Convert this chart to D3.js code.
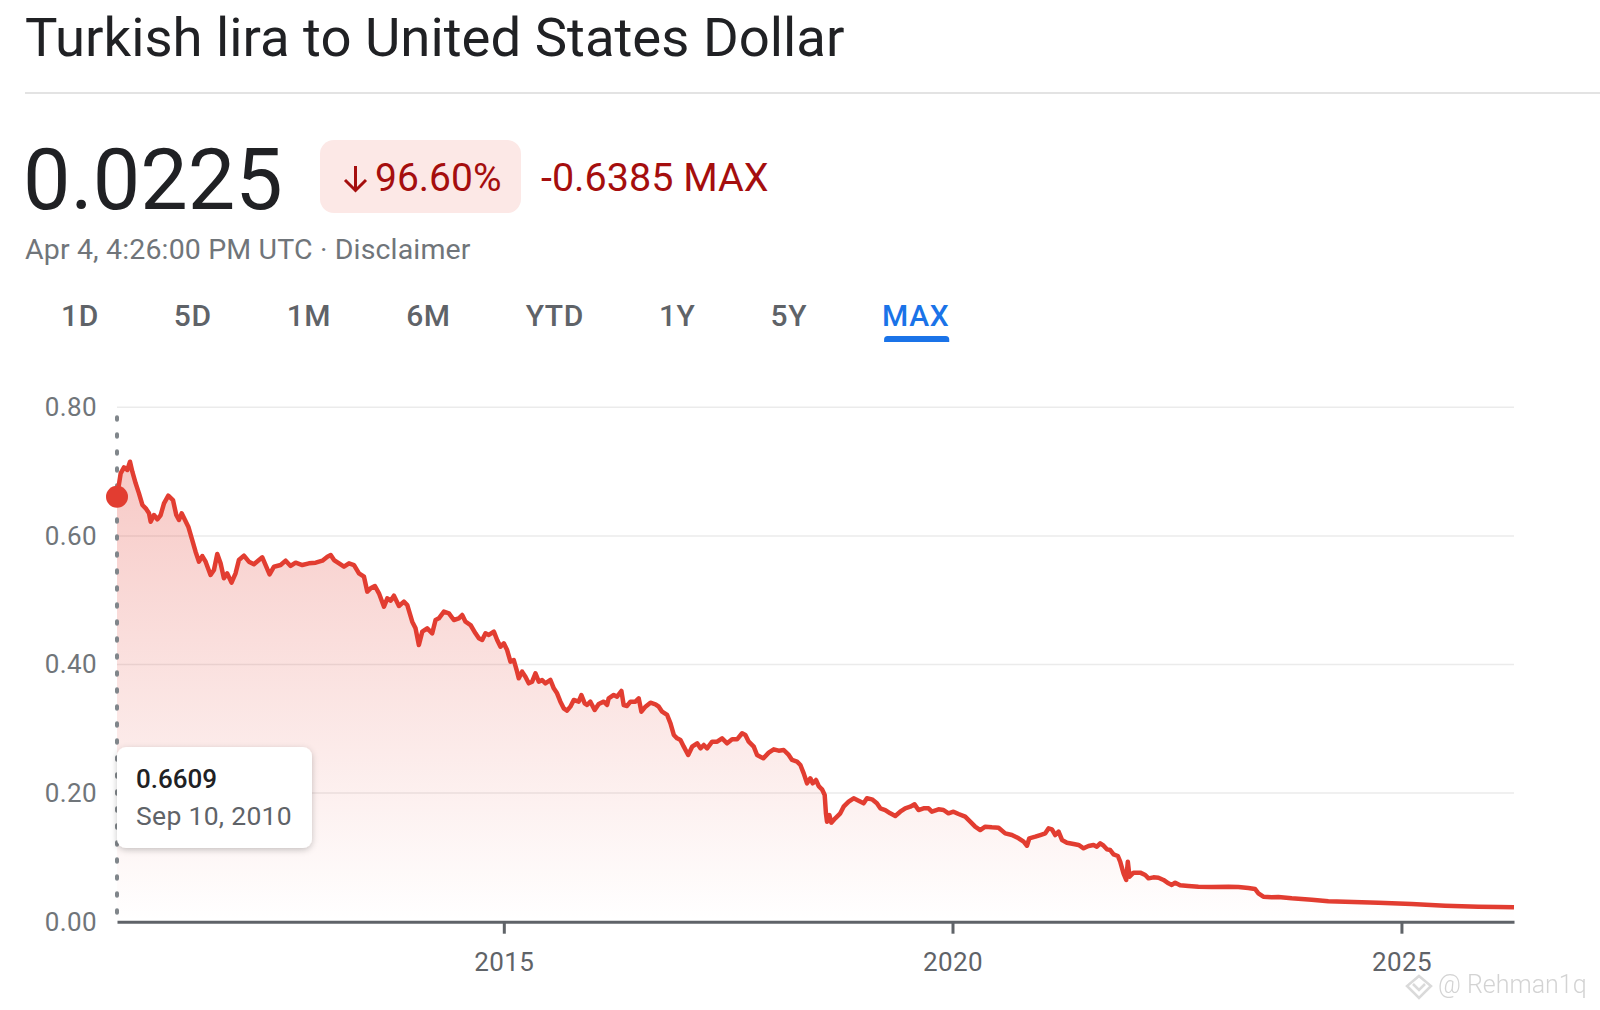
<!DOCTYPE html>
<html>
<head>
<meta charset="utf-8">
<script src="https://cdn.jsdelivr.net/npm/d3@7"></script>
<style>
  body { margin: 0; background: #fff; }
  svg { display: block; font-family: Roboto, "Noto Sans", sans-serif; }
</style>
</head>
<body>
<div id="chart"></div>
<script>
// data (decimal year, TRY in USD)
var years = [
  2010.690, 2010.731, 2010.768, 2010.805, 2010.835, 2010.861, 2010.898, 2010.935, 2010.973, 2011.010,
  2011.047, 2011.065, 2011.102, 2011.140, 2011.177, 2011.214, 2011.262, 2011.314, 2011.351, 2011.381,
  2011.411, 2011.448, 2011.485, 2011.529, 2011.566, 2011.604, 2011.641, 2011.678, 2011.733, 2011.771,
  2011.808, 2011.845, 2011.882, 2011.919, 2011.967, 2012.012, 2012.049, 2012.105, 2012.160, 2012.216,
  2012.272, 2012.309, 2012.346, 2012.390, 2012.439, 2012.513, 2012.569, 2012.624, 2012.680, 2012.754,
  2012.828, 2012.903, 2012.977, 2013.033, 2013.070, 2013.107, 2013.163, 2013.218, 2013.274, 2013.330,
  2013.385, 2013.441, 2013.478, 2013.515, 2013.563, 2013.608, 2013.664, 2013.701, 2013.738, 2013.775,
  2013.831, 2013.886, 2013.924, 2013.979, 2014.016, 2014.053, 2014.091, 2014.146, 2014.202, 2014.239,
  2014.276, 2014.332, 2014.388, 2014.443, 2014.499, 2014.536, 2014.573, 2014.629, 2014.684, 2014.722,
  2014.759, 2014.796, 2014.833, 2014.889, 2014.926, 2014.963, 2015.000, 2015.037, 2015.074, 2015.111,
  2015.148, 2015.167, 2015.204, 2015.241, 2015.278, 2015.316, 2015.353, 2015.390, 2015.427, 2015.464,
  2015.520, 2015.557, 2015.594, 2015.631, 2015.668, 2015.705, 2015.742, 2015.780, 2015.835, 2015.865,
  2015.902, 2015.928, 2015.965, 2016.013, 2016.058, 2016.114, 2016.151, 2016.169, 2016.225, 2016.262,
  2016.310, 2016.336, 2016.373, 2016.411, 2016.466, 2016.503, 2016.533, 2016.578, 2016.633, 2016.689,
  2016.726, 2016.763, 2016.819, 2016.856, 2016.893, 2016.930, 2016.967, 2017.004, 2017.053, 2017.097,
  2017.153, 2017.190, 2017.227, 2017.264, 2017.320, 2017.376, 2017.431, 2017.487, 2017.543, 2017.598,
  2017.654, 2017.691, 2017.728, 2017.784, 2017.821, 2017.890, 2017.951, 2018.007, 2018.062, 2018.118,
  2018.174, 2018.211, 2018.267, 2018.304, 2018.341, 2018.378, 2018.415, 2018.441, 2018.478, 2018.508,
  2018.545, 2018.575, 2018.589, 2018.601, 2018.627, 2018.649, 2018.693, 2018.749, 2018.786, 2018.842,
  2018.898, 2018.953, 2019.009, 2019.046, 2019.102, 2019.157, 2019.195, 2019.250, 2019.306, 2019.362,
  2019.417, 2019.473, 2019.529, 2019.577, 2019.621, 2019.677, 2019.733, 2019.770, 2019.844, 2019.900,
  2019.955, 2020.011, 2020.067, 2020.141, 2020.197, 2020.252, 2020.308, 2020.364, 2020.438, 2020.512,
  2020.586, 2020.661, 2020.735, 2020.791, 2020.828, 2020.854, 2020.921, 2020.976, 2021.032, 2021.069,
  2021.106, 2021.143, 2021.180, 2021.218, 2021.273, 2021.347, 2021.403, 2021.459, 2021.514, 2021.570,
  2021.607, 2021.644, 2021.682, 2021.719, 2021.756, 2021.793, 2021.841, 2021.867, 2021.904, 2021.934,
  2021.952, 2021.971, 2022.016, 2022.090, 2022.146, 2022.183, 2022.238, 2022.294, 2022.350, 2022.405,
  2022.442, 2022.480, 2022.535, 2022.628, 2022.739, 2022.888, 2023.074, 2023.185, 2023.296, 2023.370,
  2023.408, 2023.463, 2023.556, 2023.630, 2023.779, 2024.002, 2024.187, 2024.373, 2024.744, 2025.115,
  2025.486, 2025.857, 2026.080, 2026.255
];
var rates = [
  0.6609, 0.6973, 0.7066, 0.7025, 0.7154, 0.6999, 0.6818, 0.6662, 0.6481, 0.6429,
  0.6351, 0.6221, 0.6325, 0.6258, 0.6325, 0.6506, 0.6626, 0.6558, 0.6325, 0.6247,
  0.6351, 0.6247, 0.6144, 0.5936, 0.5755, 0.5599, 0.5687, 0.5599, 0.5392, 0.5470,
  0.5718, 0.5573, 0.5340, 0.5418, 0.5273, 0.5418, 0.5625, 0.5693, 0.5599, 0.5558,
  0.5625, 0.5667, 0.5547, 0.5402, 0.5521, 0.5547, 0.5615, 0.5532, 0.5584, 0.5547,
  0.5573, 0.5584, 0.5615, 0.5677, 0.5703, 0.5625, 0.5573, 0.5521, 0.5573, 0.5547,
  0.5418, 0.5366, 0.5133, 0.5185, 0.5221, 0.5107, 0.4899, 0.5029, 0.4993, 0.5070,
  0.4910, 0.4977, 0.4925, 0.4666, 0.4562, 0.4303, 0.4511, 0.4562, 0.4485, 0.4692,
  0.4718, 0.4822, 0.4796, 0.4692, 0.4718, 0.4770, 0.4666, 0.4614, 0.4485, 0.4407,
  0.4381, 0.4485, 0.4459, 0.4511, 0.4381, 0.4277, 0.4329, 0.4225, 0.4044, 0.4070,
  0.3889, 0.3785, 0.3889, 0.3811, 0.3707, 0.3733, 0.3863, 0.3733, 0.3759, 0.3707,
  0.3759, 0.3629, 0.3552, 0.3422, 0.3318, 0.3282, 0.3344, 0.3448, 0.3422, 0.3526,
  0.3396, 0.3370, 0.3422, 0.3292, 0.3386, 0.3422, 0.3370, 0.3474, 0.3526, 0.3500,
  0.3588, 0.3370, 0.3355, 0.3422, 0.3422, 0.3474, 0.3266, 0.3344, 0.3406, 0.3381,
  0.3344, 0.3266, 0.3215, 0.3085, 0.2904, 0.2852, 0.2826, 0.2722, 0.2593, 0.2722,
  0.2774, 0.2696, 0.2748, 0.2696, 0.2800, 0.2800, 0.2852, 0.2774, 0.2836, 0.2836,
  0.2930, 0.2904, 0.2800, 0.2722, 0.2593, 0.2541, 0.2629, 0.2681, 0.2660, 0.2670,
  0.2593, 0.2515, 0.2489, 0.2437, 0.2307, 0.2152, 0.2230, 0.2152, 0.2204, 0.2110,
  0.2059, 0.1970, 0.1685, 0.1556, 0.1659, 0.1540, 0.1608, 0.1685, 0.1789, 0.1867,
  0.1919, 0.1882, 0.1841, 0.1919, 0.1903, 0.1841, 0.1763, 0.1737, 0.1685, 0.1644,
  0.1711, 0.1763, 0.1789, 0.1825, 0.1737, 0.1763, 0.1763, 0.1711, 0.1748, 0.1737,
  0.1685, 0.1711, 0.1675, 0.1633, 0.1556, 0.1478, 0.1426, 0.1478, 0.1468, 0.1462,
  0.1374, 0.1348, 0.1297, 0.1245, 0.1182, 0.1297, 0.1322, 0.1348, 0.1374, 0.1452,
  0.1437, 0.1348, 0.1400, 0.1271, 0.1229, 0.1208, 0.1193, 0.1141, 0.1177, 0.1193,
  0.1167, 0.1219, 0.1182, 0.1125, 0.1115, 0.1048, 0.1022, 0.0934, 0.0752, 0.0649,
  0.0934, 0.0700, 0.0763, 0.0763, 0.0726, 0.0674, 0.0690, 0.0684, 0.0649, 0.0597,
  0.0571, 0.0607, 0.0566, 0.0555, 0.0545, 0.0540, 0.0545, 0.0540, 0.0524, 0.0509,
  0.0441, 0.0389, 0.0379, 0.0384, 0.0363, 0.0343, 0.0317, 0.0312, 0.0296, 0.0275,
  0.0249, 0.0234, 0.0230, 0.0225
];
var yTicks = [0, 0.2, 0.4, 0.6, 0.8];
var xTickYears = [2015, 2020, 2025];
var tabLabels = ["1D", "5D", "1M", "6M", "YTD", "1Y", "5Y", "MAX"];
var activeTab = "MAX";

var titleText = "Turkish lira to United States Dollar";
var priceText = "0.0225";
var changePct = "96.60%";
var changeAbs = "-0.6385 MAX";
var stampText = "Apr 4, 4:26:00 PM UTC \u00b7 Disclaimer";
var tipValue = "0.6609";
var tipDate = "Sep 10, 2010";

var svgWidth = 1600;
var svgHeight = 1010;

var red = "#e23d31";
var darkRed = "#a50e0e";

function toDate(y) {
  var yr = Math.floor(y);
  var a = Date.UTC(yr, 0, 1), b = Date.UTC(yr + 1, 0, 1);
  return new Date(a + (y - yr) * (b - a));
}

var data = years.map(function(y, i) {
  return { date: toDate(y), rate: rates[i] };
});

var svg = d3.select("#chart")
  .append("svg")
  .attr("width", svgWidth)
  .attr("height", svgHeight);

// header
svg.append("text")
  .attr("x", 25)
  .attr("y", 56)
  .attr("font-size", 54.5)
  .attr("fill", "#202124")
  .text(titleText);

svg.append("line")
  .attr("x1", 25).attr("x2", svgWidth)
  .attr("y1", 93).attr("y2", 93)
  .attr("stroke", "#e3e3e3")
  .attr("stroke-width", 2);

svg.append("text")
  .attr("x", 23)
  .attr("y", 209)
  .attr("font-size", 84.5)
  .attr("fill", "#202124")
  .text(priceText);

svg.append("rect")
  .attr("x", 320).attr("y", 140)
  .attr("width", 201).attr("height", 73)
  .attr("rx", 14)
  .attr("fill", "#fce8e6");

// down arrow
svg.append("path")
  .attr("d", "M355.5,166 V190 M345,180 L355.5,190.5 L366,180")
  .attr("fill", "none")
  .attr("stroke", darkRed)
  .attr("stroke-width", 3);

svg.append("text")
  .attr("x", 375).attr("y", 191)
  .attr("font-size", 39)
  .attr("fill", darkRed)
  .text(changePct);

svg.append("text")
  .attr("x", 541).attr("y", 191)
  .attr("font-size", 39.5)
  .attr("fill", darkRed)
  .text(changeAbs);

svg.append("text")
  .attr("x", 25).attr("y", 259)
  .attr("font-size", 28.5)
  .attr("letter-spacing", 0.15)
  .attr("fill", "#70757a")
  .text(stampText);

// range tabs, laid out one after another
var tabX = 61;
tabLabels.forEach(function(t) {
  var isActive = t === activeTab;
  var label = svg.append("text")
    .attr("x", tabX).attr("y", 326)
    .attr("font-size", 30)
    .attr("font-weight", 500)
    .attr("letter-spacing", 0.6)
    .attr("fill", isActive ? "#1a73e8" : "#5f6368")
    .text(t);
  var w = label.node().getComputedTextLength();
  if (isActive) {
    svg.append("path")
      .attr("d", `M${tabX + 2},342 v-2.5 a3.5,3.5 0 0 1 3.5,-3.5 h${w - 9} a3.5,3.5 0 0 1 3.5,3.5 v2.5 Z`)
      .attr("fill", "#1a73e8");
  }
  tabX += w + 75;
});

// chart
var xScale = d3.scaleUtc()
  .domain(d3.extent(data, d => d.date))
  .range([117, 1514]);

var yScale = d3.scaleLinear()
  .domain([0, 0.8])
  .range([921.7, 407.3]);

var defs = svg.append("defs");
var grad = defs.append("linearGradient")
  .attr("id", "areaFill")
  .attr("gradientUnits", "userSpaceOnUse")
  .attr("x1", 0).attr("x2", 0)
  .attr("y1", yScale(0.72)).attr("y2", yScale(0));
grad.append("stop").attr("offset", "0%").attr("stop-color", red).attr("stop-opacity", 0.28);
grad.append("stop").attr("offset", "100%").attr("stop-color", red).attr("stop-opacity", 0.0);

var shadow = defs.append("filter")
  .attr("id", "tipShadow")
  .attr("x", "-20%").attr("y", "-20%")
  .attr("width", "140%").attr("height", "150%");
shadow.append("feDropShadow")
  .attr("dx", 0).attr("dy", 2)
  .attr("stdDeviation", 3)
  .attr("flood-color", "#000")
  .attr("flood-opacity", 0.22);

// gridlines
svg.append("g")
  .selectAll("line")
  .data(yTicks.filter(d => d > 0))
  .enter()
  .append("line")
  .attr("x1", xScale.range()[0])
  .attr("x2", xScale.range()[1])
  .attr("y1", d => yScale(d))
  .attr("y2", d => yScale(d))
  .attr("stroke", "#ebebeb")
  .attr("stroke-width", 1.5);

// y axis labels
var yAxis = d3.axisLeft(yScale)
  .tickValues(yTicks)
  .tickFormat(d3.format(".2f"))
  .tickSize(0)
  .tickPadding(20);

var yAxisG = svg.append("g")
  .attr("transform", `translate(${xScale.range()[0]},0)`)
  .call(yAxis);
yAxisG.select(".domain").remove();
yAxisG.selectAll("text")
  .attr("font-family", "Roboto, sans-serif")
  .attr("font-size", 26)
  .attr("letter-spacing", 0.4)
  .attr("fill", "#70757a");

// area + line
var area = d3.area()
  .x(d => xScale(d.date))
  .y0(yScale(0))
  .y1(d => yScale(d.rate));

var line = d3.line()
  .x(d => xScale(d.date))
  .y(d => yScale(d.rate));

svg.append("path")
  .datum(data)
  .attr("d", area)
  .attr("fill", "url(#areaFill)");

// dotted hover line
var hoverX = xScale(data[0].date);
svg.append("line")
  .attr("x1", hoverX).attr("x2", hoverX)
  .attr("y1", yScale(0.8) + 10)
  .attr("y2", yScale(0))
  .attr("stroke", "#80868b")
  .attr("stroke-width", 4)
  .attr("stroke-linecap", "round")
  .attr("stroke-dasharray", "2.5 14.5");

svg.append("path")
  .datum(data)
  .attr("d", line)
  .attr("fill", "none")
  .attr("stroke", red)
  .attr("stroke-width", 4.5)
  .attr("stroke-linejoin", "round");

// x axis
var xAxis = d3.axisBottom(xScale)
  .tickValues(xTickYears.map(y => new Date(Date.UTC(y, 0, 1))))
  .tickFormat(d3.utcFormat("%Y"))
  .tickSize(12)
  .tickSizeOuter(0)
  .tickPadding(19);

var xAxisG = svg.append("g")
  .attr("transform", `translate(0,${yScale(0)})`)
  .call(xAxis);
xAxisG.select(".domain")
  .attr("stroke", "#5f6368")
  .attr("stroke-width", 3);
xAxisG.selectAll(".tick line")
  .attr("stroke", "#5f6368")
  .attr("stroke-width", 3);
xAxisG.selectAll("text")
  .attr("font-family", "Roboto, sans-serif")
  .attr("font-size", 26)
  .attr("letter-spacing", 0.4)
  .attr("fill", "#5f6368");

// hover dot
svg.append("circle")
  .attr("cx", hoverX)
  .attr("cy", yScale(data[0].rate))
  .attr("r", 11)
  .attr("fill", red);

// tooltip
var tip = svg.append("g");
tip.append("rect")
  .attr("x", hoverX).attr("y", 747)
  .attr("width", 195).attr("height", 101)
  .attr("rx", 9)
  .attr("fill", "#fff")
  .attr("filter", "url(#tipShadow)");
tip.append("text")
  .attr("x", hoverX + 19).attr("y", 788)
  .attr("font-size", 26)
  .attr("font-weight", 500)
  .attr("fill", "#202124")
  .text(tipValue);
tip.append("text")
  .attr("x", hoverX + 19).attr("y", 825)
  .attr("font-size", 26.5)
  .attr("letter-spacing", 0.3)
  .attr("fill", "#5f6368")
  .text(tipDate);

// watermark
var wm = svg.append("g").attr("opacity", 0.9);
wm.append("path")
  .attr("d", "M1419,976 L1431,986 L1419,998 L1407,986 Z M1413,984 L1419,990 L1425,984")
  .attr("fill", "none")
  .attr("stroke", "#d6d6d6")
  .attr("stroke-width", 2.5);
wm.append("text")
  .attr("x", 1438).attr("y", 993)
  .attr("font-size", 25)
  .attr("font-weight", 300)
  .attr("fill", "#cfcfcf")
  .text("@ Rehman1q");
</script>
</body>
</html>
